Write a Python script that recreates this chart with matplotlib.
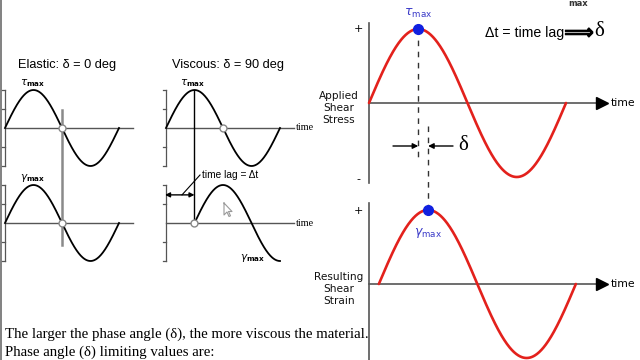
import numpy as np
import matplotlib
matplotlib.use('Agg')
import matplotlib.pyplot as plt
import matplotlib.patheffects as pe

plt.rcParams['mathtext.fontset'] = 'dejavusans'

W, H = 640, 360
fig = plt.figure(figsize=(6.4, 3.6), dpi=100)

# ---------------- data ----------------
theta = np.linspace(0, 360, 361)              # phase, degrees
elastic_shift_deg = 0                         # strain lag, elastic
viscous_shift_deg = 90                        # strain lag, viscous
viscous_strain_span = [90, 360]               # drawn range of viscous strain
right_shift_deg = 18                          # lag shown in right panel
open_circles = {'ET': 180, 'EB': 180, 'VT': 180, 'VB': 90}
peak_amp = 1.0

# ---------------- helpers ----------------
bg = fig.add_axes([0, 0, 1, 1])
bg.set_xlim(0, W)
bg.set_ylim(H, 0)
bg.axis('off')


def overlay(x0, y0, period_px, amp_px):
    sx = period_px / 360.0
    sy = amp_px
    ax = fig.add_axes([0, 0, 1, 1])
    ax.set_xlim(-x0 / sx, (W - x0) / sx)
    ax.set_ylim((y0 - H) / sy, y0 / sy)
    ax.axis('off')
    ax.patch.set_alpha(0)
    return ax, sx, sy


AXC = '#555555'


def small_panel(x0, y0, shift, span, circ):
    ax, sx, sy = overlay(x0, y0, 114, 38)
    ax.plot([0, 0], [-1, 1], color=AXC, lw=0.9)
    for t in (-1, -0.5, 0.5, 1):
        ax.plot([-2.5 / sx, 0], [t, t], color=AXC, lw=0.9)
    ax.plot([0, 128 / sx], [0, 0], color=AXC, lw=1.0)
    th = theta[(theta >= span[0]) & (theta <= span[1])]
    ax.plot(th, peak_amp * np.sin(np.radians(th - shift)), color='black', lw=1.3)
    ax.plot([circ], [0], marker='o', ms=5, mfc='white', mec='#888888', mew=1.0)
    return ax, sx, sy


ET, sxs, sys_ = small_panel(5, 128, elastic_shift_deg, [0, 360], open_circles['ET'])
EB, _, _ = small_panel(5, 223, elastic_shift_deg, [0, 360], open_circles['EB'])
VT, _, _ = small_panel(166, 128, 0, [0, 360], open_circles['VT'])
VB, _, _ = small_panel(166, 223, viscous_shift_deg, viscous_strain_span, open_circles['VB'])

# elastic grey marker line
ET.plot([180, 180], [0.47, -3.08], color='#8a8a8a', lw=1.8, zorder=1)
# viscous line from stress peak to strain start
VT.plot([90, 90], [1, -2.42], color='black', lw=1.0)
# time lag arrow
VB.annotate('', xy=(-3, 0.74), xytext=(90, 0.74),
            arrowprops=dict(arrowstyle='<|-|>', color='black', lw=1.0,
                            mutation_scale=7, shrinkA=0, shrinkB=0))
VB.plot([(182 - 166) / sxs, (200 - 166) / sxs], [0.74, (223 - 175) / 38.0],
        color='black', lw=0.8)

# small mouse pointer
bg.plot([224, 224, 227, 229, 230.5, 228.5, 232, 224],
        [203, 215, 212, 216.5, 215.8, 211.5, 211.5, 203],
        color='#999999', lw=0.8)

# small panel labels
tmax = r'$\tau_{\mathbf{max}}$'
gmax = r'$\gamma_{\mathbf{max}}$'
bg.text(67, 65, 'Elastic: δ = 0 deg', ha='center', va='center',
        fontsize=9.2, family='Liberation Sans')
bg.text(228, 65, 'Viscous: δ = 90 deg', ha='center', va='center',
        fontsize=9.2, family='Liberation Sans')
bg.text(33, 83, tmax, ha='center', va='center', fontsize=7.5)
bg.text(193, 83, tmax, ha='center', va='center', fontsize=7.5)
bg.text(33, 178, gmax, ha='center', va='center', fontsize=7.5)
bg.text(253, 258, gmax, ha='center', va='center', fontsize=7.5)
bg.text(296, 128, 'time', ha='left', va='center', fontsize=7.3, family='Liberation Serif')
bg.text(296, 223, 'time', ha='left', va='center', fontsize=7.3, family='Liberation Serif')
bg.text(202, 175, 'time lag = Δt', ha='left', va='center', fontsize=7.3,
        family='Liberation Sans')

# ---------------- right panels ----------------
RED = '#e3211c'
BLUE = '#1020e0'
LBLUE = '#3a3ac8'


def right_panel(x0, y0, shift, ytop, ybot):
    ax, sx, sy = overlay(x0, y0, 197, 74)
    ax.plot([0, 0], [(y0 - ytop) / sy, (y0 - ybot) / sy], color=AXC, lw=1.2)
    ax.plot([0, (599 - x0) / sx], [0, 0], color=AXC, lw=1.2)
    ax.plot([(602 - x0) / sx], [0], marker='>', ms=8, color='black')
    th = theta + shift
    ax.plot(th, peak_amp * np.sin(np.radians(th - shift)), color=RED, lw=1.9,
            solid_capstyle='round')
    ax.plot([90 + shift], [peak_amp], marker='o', ms=7, color=BLUE, zorder=5)
    return ax, sx, sy


AT, sxr, syr = right_panel(369, 103, 0, 23, 183)
RB, _, _ = right_panel(369, 284, right_shift_deg, 203, 362)

AT.plot([90, 90], [1, (103 - 158) / 74.0], color='#333333', lw=1.0,
        linestyle=(0, (4, 4)))
RB.plot([90 + right_shift_deg] * 2, [(284 - 126) / 74.0, (284 - 204) / 74.0],
        color='#333333', lw=1.0, linestyle=(0, (4, 4)))

ya = (103 - 146) / 74.0
AT.annotate('', xy=(90, ya), xytext=((393 - 369) / sxr, ya),
            arrowprops=dict(arrowstyle='-|>', color='black', lw=1.0,
                            mutation_scale=8, shrinkA=0, shrinkB=0))
AT.annotate('', xy=(90 + right_shift_deg, ya), xytext=((453 - 369) / sxr, ya),
            arrowprops=dict(arrowstyle='-|>', color='black', lw=1.0,
                            mutation_scale=8, shrinkA=0, shrinkB=0))
bg.text(458, 146, 'δ', ha='left', va='center', fontsize=15,
        family='Liberation Serif')

for (x, y, s) in [(358, 29, '+'), (358, 179, '-'), (358, 211, '+')]:
    bg.text(x, y, s, ha='center', va='center', fontsize=8, family='DejaVu Sans')

bg.text(339, 108, 'Applied\nShear\nStress', ha='center', va='center',
        fontsize=7.6, linespacing=1.25, family='DejaVu Sans', color='#111111')
bg.text(339, 289, 'Resulting\nShear\nStrain', ha='center', va='center',
        fontsize=7.6, linespacing=1.25, family='DejaVu Sans', color='#111111')
bg.text(611, 103, 'time', ha='left', va='center', fontsize=7.8, family='DejaVu Sans')
bg.text(611, 284, 'time', ha='left', va='center', fontsize=7.8, family='DejaVu Sans')

bg.text(418, 13, r'$\tau_{\rm max}$', ha='center', va='center', fontsize=9,
        color=LBLUE)
bg.text(428, 233, r'$\gamma_{\rm max}$', ha='center', va='center', fontsize=9,
        color=LBLUE)

bg.text(485, 33, 'Δt = time lag', ha='left', va='center', fontsize=10.2,
        family='Liberation Sans')
bg.text(579, 33, '⟹', ha='center', va='center', fontsize=15,
        family='DejaVu Sans', fontweight='bold',
        path_effects=[pe.withStroke(linewidth=0.6, foreground='black')])
bg.text(594, 32, 'δ', ha='left', va='center', fontsize=15,
        family='Liberation Serif')
bg.text(578, 4, 'max', ha='center', va='center', fontsize=6, color='#333333',
        fontweight='bold')

# ---------------- bottom text and border ----------------
bg.text(5, 334, 'The larger the phase angle (δ), the more viscous the material.',
        ha='left', va='center', fontsize=10.7, family='Liberation Serif')
bg.text(5, 352, 'Phase angle (δ) limiting values are:',
        ha='left', va='center', fontsize=10.7, family='Liberation Serif')
bg.plot([1.2, 1.2], [0, H], color='#777777', lw=1.3)

fig.savefig('out.png', dpi=100)
